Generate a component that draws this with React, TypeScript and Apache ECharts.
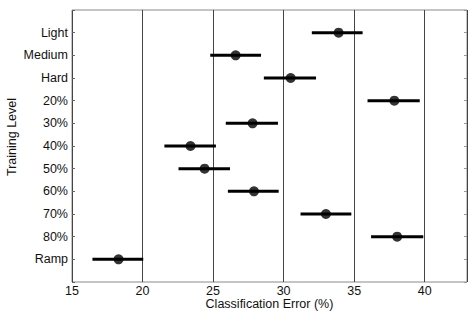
import React, { useEffect, useRef } from "react";
import * as echarts from "echarts";

const categories = ["Light", "Medium", "Hard", "20%", "30%", "40%", "50%", "60%", "70%", "80%", "Ramp"];
const meanError = [33.9, 26.6, 30.5, 37.85, 27.8, 23.4, 24.4, 27.9, 33.0, 38.05, 18.3];
const lowerError = [32.0, 24.8, 28.6, 35.95, 25.9, 21.55, 22.55, 26.05, 31.2, 36.2, 16.45];
const upperError = [35.6, 28.4, 32.3, 39.65, 29.6, 25.2, 26.2, 29.65, 34.8, 39.9, 20.05];
const xTicks = [15, 20, 25, 30, 35, 40];

// padded category list so that the first and last levels sit one step in from the frame
const yCats = ["", ...categories, ""];

export default function App() {
  const ref = useRef<HTMLDivElement>(null);
  useEffect(() => {
    if (!ref.current) return;
    const chart = echarts.init(ref.current, null, { renderer: "svg" });
    const font = "Liberation Sans, Arial, sans-serif";
    const fs = 12.5;
    const errData = categories.map((c, i) => [lowerError[i], upperError[i], c]);
    const dotData = categories.map((c, i) => [meanError[i], c]);
    chart.setOption({
      animation: false,
      grid: {
        left: 72,
        right: 7,
        top: 10,
        bottom: 39,
        outerBoundsMode: "none",
        containLabel: false,
        show: true,
        borderColor: "#8a8a8a",
        borderWidth: 1,
        backgroundColor: "#fff",
      },
      xAxis: {
        type: "value",
        min: 15,
        max: 43,
        interval: 5,
        name: "Classification Error (%)",
        nameLocation: "middle",
        nameGap: 16,
        nameMoveOverlap: false,
        nameTextStyle: { fontFamily: font, fontSize: fs, lineHeight: 12, color: "#111" },
        axisLine: { show: false },
        axisTick: { show: false },
        axisLabel: {
          fontFamily: font,
          fontSize: fs,
          lineHeight: 12,
          color: "#111",
          margin: 3,
          formatter: (v: number) => (xTicks.includes(v) ? String(v) : ""),
        },
        splitLine: { show: true, lineStyle: { color: "#444", width: 1 } },
      },
      yAxis: [
        {
          type: "category",
          data: yCats,
          inverse: true,
          boundaryGap: false,
          name: "Training Level",
          nameLocation: "middle",
          nameGap: 54,
          nameMoveOverlap: false,
          nameTextStyle: { fontFamily: font, fontSize: fs, lineHeight: 12, color: "#111", padding: [0, 0, 0, 18] },
          axisLine: { show: false },
          axisTick: { show: true, inside: true, length: 3, lineStyle: { color: "#666" }, interval: 0 },
          axisLabel: { fontFamily: font, fontSize: fs, lineHeight: 12, color: "#111", margin: 4, interval: 0 },
          splitLine: { show: false },
        },
        {
          type: "category",
          data: yCats,
          inverse: true,
          boundaryGap: false,
          position: "right",
          axisLine: { show: false },
          axisTick: { show: true, inside: true, length: 3, lineStyle: { color: "#999" }, interval: 0 },
          axisLabel: { show: false },
          splitLine: { show: false },
        },
      ],
      series: [
        {
          type: "custom",
          data: errData,
          encode: { x: [0, 1], y: 2 },
          renderItem: (params: any, api: any) => {
            const y = api.value(2);
            const p0 = api.coord([api.value(0), y]);
            const p1 = api.coord([api.value(1), y]);
            return {
              type: "line",
              shape: { x1: p0[0], y1: p0[1], x2: p1[0], y2: p1[1] },
              style: { stroke: "#000", lineWidth: 3 },
            };
          },
          z: 3,
        },
        {
          type: "scatter",
          data: dotData,
          symbol: "circle",
          symbolSize: 10,
          itemStyle: { color: "#000" },
          z: 4,
        },
      ],
    });
    return () => chart.dispose();
  }, []);
  return <div ref={ref} style={{ width: 474, height: 321, position: "absolute", left: 0, top: 0 }} />;
}
